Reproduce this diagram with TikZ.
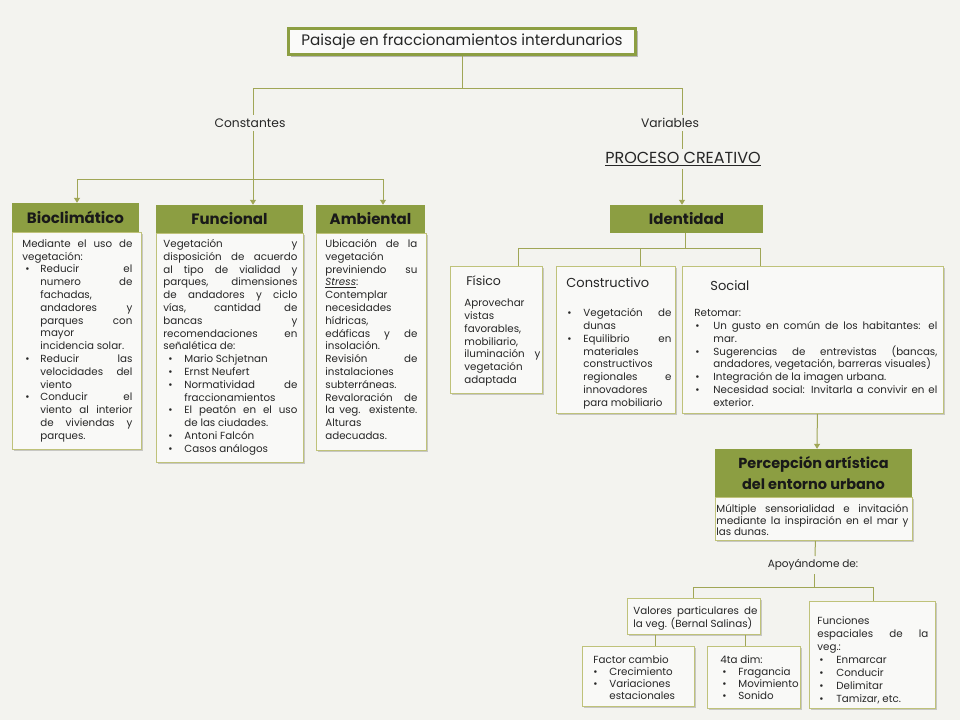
\documentclass[tikz,border=0pt]{standalone}
\usepackage{fontspec}
\setmainfont{Poppins}
\usepackage{enumitem}
\usetikzlibrary{arrows.meta,shadows}
\definecolor{bg}{HTML}{F3F3EF}
\definecolor{hdr}{HTML}{8C9E42}
\definecolor{lnc}{HTML}{A0A656}
\definecolor{bxc}{HTML}{BFC27A}
\definecolor{txt}{HTML}{262626}
\setlist[itemize]{label=\textbullet,align=left,labelwidth=6pt,itemsep=0pt,topsep=0pt,parsep=0pt,partopsep=0pt,leftmargin=18pt,labelsep=9pt}
\newcommand\bx[6]{\parbox[c][#2pt][t]{#1pt}{\vspace*{#5pt}\hspace*{#3pt}\parbox[t]{\dimexpr#1pt-#3pt-#4pt\relax}{\hyphenpenalty=10000\exhyphenpenalty=10000\emergencystretch=20pt #6}}}
\begin{document}
\begin{tikzpicture}[x=1pt,y=-1pt,
  body/.style={draw=bxc,line width=0.8pt,fill=bg!50!white,inner sep=0pt,anchor=north west,text=txt,font=\fontsize{10.3}{12.8}\selectfont,drop shadow={shadow xshift=1.2pt,shadow yshift=-1.2pt,opacity=0.18,fill=black}},
  hdrbox/.style={fill=hdr,inner sep=0pt,text=black!90,font=\bfseries\fontsize{15}{17}\selectfont},
  lbl/.style={text=txt,font=\fontsize{12.3}{14}\selectfont},
  conn/.style={draw=lnc,line width=1pt},
  arr/.style={conn,-{Triangle[width=6pt,length=5pt]}}]
\fill[bg] (0,0) rectangle (960,720);
\useasboundingbox (0,0) rectangle (960,720);

% title
\node[draw=hdr,line width=3pt,fill=bg!40!white,minimum width=347pt,minimum height=26pt,inner sep=0pt,text=txt,font=\fontsize{15.2}{17}\selectfont,drop shadow={shadow xshift=2pt,shadow yshift=-2pt,opacity=0.25,fill=black}] (title) at (462,41.5) {Paisaje en fraccionamientos interdunarios};

% labels
\node[lbl] (constL) at (250,123) {Constantes};
\node[lbl] (varL) at (670,123) {Variables};
\node[text=txt,font=\fontsize{16}{18}\selectfont] (procL) at (683,159) {\underline{PROCESO CREATIVO}};
\node[lbl,font=\fontsize{10.5}{12}\selectfont] (apoL) at (813,565) {Apoyándome de:};

% headers
\node[hdrbox,minimum width=127pt,minimum height=29pt] (bioH) at (75.5,217.5) {Bioclimático};
\node[hdrbox,minimum width=147pt,minimum height=28pt] (funH) at (229.5,219) {Funcional};
\node[hdrbox,minimum width=109pt,minimum height=28pt] (ambH) at (370.5,219) {Ambiental};
\node[hdrbox,minimum width=153pt,minimum height=28pt] (identH) at (686.5,219) {Identidad};
\node[hdrbox,minimum width=197pt,minimum height=48pt,align=center,font=\bfseries\fontsize{14.5}{21}\selectfont] (percH) at (813.5,473) {Percepción artística\\del entorno urbano};

% bodies
\node[body] (bioB) at (12,232) {\bx{129}{217}{10}{9}{7}{Mediante el uso de\linebreak vegetación:
\begin{itemize}[leftmargin=18pt,labelsep=9pt]
\item Reducir el\linebreak numero de\linebreak fachadas,\linebreak andadores y\linebreak parques con\linebreak mayor\linebreak incidencia solar.
\item Reducir las\linebreak velocidades del\linebreak viento
\item Conducir el\linebreak viento al interior\linebreak de viviendas y\linebreak parques.
\end{itemize}}};

\node[body] (funB) at (156,233) {\bx{147}{229}{7}{6}{6}{Vegetación y\linebreak disposición de acuerdo\linebreak al tipo de vialidad y\linebreak parques, dimensiones\linebreak de andadores y ciclo\linebreak vías, cantidad de\linebreak bancas y\linebreak recomendaciones en\linebreak señalética de:
\begin{itemize}[leftmargin=21pt,labelsep=10pt]
\item Mario Schjetnan
\item Ernst Neufert
\item Normatividad de\linebreak fraccionamientos
\item El peatón en el uso\linebreak de las ciudades.
\item Antoni Falcón
\item Casos análogos
\end{itemize}}};

\node[body] (ambB) at (316,233) {\bx{110}{217}{9}{9}{6}{Ubicación de la\linebreak vegetación\linebreak previniendo su\linebreak \underline{\textit{Stress}}:\linebreak Contemplar\linebreak necesidades\linebreak hídricas,\linebreak edáficas y de\linebreak insolación.\linebreak Revisión de\linebreak instalaciones\linebreak subterráneas.\linebreak Revaloración de\linebreak la veg. existente.\linebreak Alturas\linebreak adecuadas.}};

\node[body] (fisB) at (450,266) {\bx{92}{127}{14}{2}{9}{{\fontsize{12.5}{14}\selectfont\hspace*{2pt}Físico\par}\vspace{8.7pt}Aprovechar\linebreak vistas\linebreak favorables,\linebreak mobiliario,\linebreak iluminación y\linebreak vegetación\linebreak adaptada}};

\node[body] (conB) at (556,266) {\bx{119}{147}{10}{4}{11}{{\fontsize{13}{15}\selectfont Constructivo\par}\vspace{16.7pt}
\begin{itemize}[leftmargin=17pt,labelsep=10pt]
\item Vegetación de\linebreak dunas
\item Equilibrio en\linebreak materiales\linebreak constructivos\linebreak regionales e\linebreak innovadores\linebreak para mobiliario
\end{itemize}}};

\node[body] (socB) at (682,266) {\bx{261}{147}{12}{6}{14}{{\fontsize{13}{15}\selectfont\hspace*{16pt}Social\par}\vspace{13.7pt}Retomar:
\begin{itemize}[leftmargin=19pt,labelsep=12pt]
\item Un gusto en común de los habitantes: el\linebreak mar.
\item Sugerencias de entrevistas (bancas,\linebreak andadores, vegetación, barreras visuales)
\item Integración de la imagen urbana.
\item Necesidad social: Invitarla a convivir en el\linebreak exterior.
\end{itemize}}};

\node[body,font=\fontsize{10.3}{11.7}\selectfont] (percB) at (715,497) {\bx{197}{43}{1}{4}{7}{Múltiple sensorialidad e invitación\linebreak mediante la inspiración en el mar y\linebreak las dunas.}};

\node[body] (valB) at (627,598) {\bx{133}{36}{6}{3}{8}{Valores particulares de\linebreak la veg. (Bernal Salinas)}};

\node[body,font=\fontsize{10.3}{12}\selectfont] (facB) at (582,646) {\bx{112}{60}{11}{2}{9}{Factor cambio
\begin{itemize}[leftmargin=16pt,labelsep=10pt]
\item Crecimiento
\item Variaciones\linebreak estacionales
\end{itemize}}};

\node[body,font=\fontsize{10.3}{12}\selectfont] (dimB) at (707,646) {\bx{93}{62}{13}{0}{9}{4ta dim:
\begin{itemize}[leftmargin=18pt,labelsep=10pt]
\item Fragancia
\item Movimiento
\item Sonido
\end{itemize}}};

\node[body,font=\fontsize{10.3}{13}\selectfont] (funcB) at (809,601) {\bx{126}{107}{8}{7}{15}{Funciones\linebreak espaciales de la\linebreak veg.:
\begin{itemize}[leftmargin=19pt,labelsep=11pt]
\item Enmarcar
\item Conducir
\item Delimitar
\item Tamizar, etc.
\end{itemize}}};

% connectors
\coordinate (j1) at (462,88);
\draw[conn] (title.south) -- (j1);
\draw[conn] (j1) -| ([xshift=3pt]constL.north);
\draw[conn] (j1) -| ([xshift=12pt]varL.north);
\coordinate (j2) at (253,179);
\draw[conn] ([xshift=3pt]constL.south) -- (j2);
\draw[arr] (j2) -| ([xshift=1.5pt]bioH.north);
\draw[arr] (j2) -| ([xshift=23.5pt]funH.north);
\draw[arr] (j2) -| ([xshift=12.5pt]ambH.north);
\draw[conn] ([xshift=12pt]varL.south) -- ([xshift=-1pt]procL.north);
\draw[arr] ([xshift=-1pt]procL.south) -- ([xshift=-4.5pt]identH.north);
\coordinate (j3) at (685,248);
\draw[conn] ([xshift=-1.5pt]identH.south) -- (j3);
\draw[conn] (j3) -| ([xshift=22pt]fisB.north);
\draw[conn] (j3) -| ([xshift=24.5pt]conB.north);
\draw[conn] (j3) -| ([xshift=-52.5pt]socB.north);
\draw[arr] ([xshift=4.5pt]socB.south) -- ([xshift=3.5pt]percH.north);
\draw[conn] ([xshift=1.5pt]percB.south) -- ([xshift=2pt]apoL.north);
\coordinate (j4) at (814,587);
\draw[conn] ([xshift=1pt]apoL.south) -- (j4);
\draw[conn] (j4) -| ([xshift=-0.5pt]valB.north);
\draw[conn] (j4) -| ([xshift=1pt]funcB.north);
\draw[conn] ([xshift=-38.5pt]valB.south) -- ([xshift=17pt]facB.north);
\draw[conn] ([xshift=51.5pt]valB.south) -- ([xshift=-8.5pt]dimB.north);
\end{tikzpicture}
\end{document}
